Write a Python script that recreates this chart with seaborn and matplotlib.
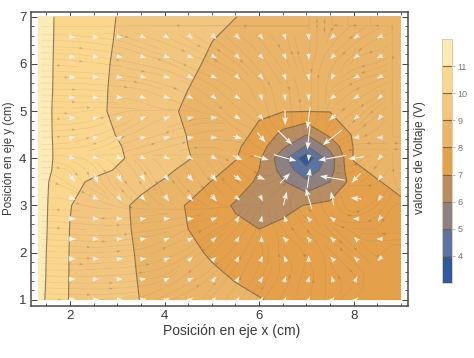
import numpy as np
import matplotlib
matplotlib.use("Agg")
import matplotlib.pyplot as plt
import matplotlib.tri as mtri
import seaborn as sns

# measurement grid (cm)
x_cm = [1.34, 1.5, 2, 2.5, 3, 3.5, 4, 4.5, 5, 5.5, 6, 6.5, 7, 7.5, 8, 8.5, 9]
y_cm = [1, 1.5, 2, 2.5, 3, 3.5, 3.75, 4, 4.25, 4.5, 5, 5.5, 6, 6.5, 7]

# voltage readings, one list per y
v_y100 = [11.3,10.93,9.94,9.62,9.3,8.98,8.79,8.6,8.42,8.23,8.04,7.85,7.75,7.7,7.65,7.6,7.6]
v_y150 = [11.3,10.98,9.95,9.62,9.28,8.94,8.7,8.46,8.18,7.92,7.75,7.6,7.55,7.55,7.6,7.6,7.6]
v_y200 = [11.3,11.0,9.96,9.6,9.26,8.9,8.57,8.23,7.88,7.55,7.35,7.35,7.45,7.5,7.55,7.6,7.65]
v_y250 = [11.3,11.04,9.98,9.61,9.23,8.84,8.42,8.0,7.55,7.2,7.0,7.2,7.35,7.45,7.5,7.6,7.7]
v_y300 = [11.3,11.06,10.03,9.62,9.22,8.8,8.36,7.93,7.4,6.9,6.7,6.75,7.05,7.25,7.5,7.75,7.85]
v_y350 = [11.3,11.08,10.3,9.83,9.54,9.25,8.93,8.45,7.97,7.45,6.85,6.1,5.2,6.0,7.4,7.95,8.25]
v_y375 = [11.3,11.1,10.67,10.3,9.93,9.56,9.19,8.76,8.28,7.75,7.0,5.65,4.3,5.6,7.85,8.15,8.4]
v_y400 = [11.3,11.1,10.74,10.43,10.11,9.77,9.41,9.06,8.6,8.06,7.15,5.37,3.3,5.5,8.05,8.4,8.6]
v_y425 = [11.3,11.1,10.73,10.4,10.07,9.71,9.36,9.0,8.6,8.2,7.4,6.2,4.9,6.3,8.05,8.4,8.6]
v_y450 = [11.3,11.1,10.7,10.33,9.97,9.69,9.31,8.97,8.6,8.22,7.85,6.7,6.0,7.2,8.1,8.4,8.6]
v_y500 = [11.3,11.1,10.67,10.22,9.83,9.48,9.19,8.87,8.6,8.4,8.1,8.05,8.03,8.03,8.35,8.6,8.75]
v_y550 = [11.3,11.12,10.68,10.22,9.86,9.58,9.3,9.01,8.8,8.6,8.45,8.35,8.3,8.3,8.5,8.75,8.85]
v_y600 = [11.3,11.12,10.7,10.25,9.89,9.63,9.38,9.13,8.9,8.72,8.6,8.5,8.45,8.5,8.6,8.8,8.9]
v_y650 = [11.3,11.12,10.73,10.31,9.94,9.71,9.47,9.24,9.01,8.85,8.72,8.63,8.6,8.6,8.7,8.85,8.95]
v_y700 = [11.3,11.12,10.75,10.35,9.98,9.79,9.6,9.4,9.2,9.01,8.85,8.75,8.7,8.7,8.8,8.9,8.95]

levels = [3, 4, 5, 6, 7, 8, 9, 10, 11, 12]
band_colors = ["#2F5A9E", "#5C74A3", "#8D8184", "#B88D61", "#E5A04C",
               "#EBB569", "#F3C67F", "#FBD78E", "#FCEBB6"]
arrow_x = [2.05, 2.55, 3.05, 3.55, 4.05, 4.55, 5.05, 5.55, 6.05, 6.55, 7.05, 7.55, 8.05, 8.55]
arrow_y = [1.01, 1.44, 1.87, 2.29, 2.72, 3.15, 3.58, 4.01, 4.44, 4.86, 5.29, 5.72, 6.15, 6.57]
xlabel = "Posición en eje x (cm)"
ylabel = "Posición en eje y (cm)"
barlabel = "valores de Voltaje (V)"

sns.set_theme(style="ticks")
plt.rcParams["font.family"] = ["Liberation Sans", "DejaVu Sans"]
palette = sns.color_palette(band_colors)
INK = "#3a3a3a"
W, H = 474, 358

Z = np.array([v_y100, v_y150, v_y200, v_y250, v_y300, v_y350, v_y375, v_y400,
              v_y425, v_y450, v_y500, v_y550, v_y600, v_y650, v_y700])
X, Y = np.meshgrid(x_cm, y_cm)

fig = plt.figure(figsize=(W / 100, H / 100), dpi=100, facecolor="white")
ax = fig.add_axes([30.7 / W, (H - 306) / H, 377.3 / W, 294 / H])

cf = ax.contourf(X, Y, Z, levels=levels, colors=palette)
ax.contour(X, Y, Z, levels=levels[1:-1], colors="#6f5f45", linewidths=0.8, alpha=0.8)

# field from the readings, on a regular grid
tri = mtri.Triangulation(X.ravel(), Y.ravel())
interp = mtri.LinearTriInterpolator(tri, Z.ravel())
xf = np.arange(1.4, 9.0001, 0.1)
yf = np.arange(1.0, 7.0001, 0.1)
XF, YF = np.meshgrid(xf, yf)
ZF = np.ma.filled(interp(XF, YF), 8.0)
gy, gx = np.gradient(ZF, yf, xf)
Ex, Ey = -gx, -gy

sp = ax.streamplot(xf, yf, Ex, Ey, density=1.6, color="#6b6258", linewidth=0.45,
                   arrowsize=0.4, zorder=2)
sp.lines.set_alpha(0.14)
for p in ax.patches:
    p.set_alpha(0.18)

AX, AY = np.meshgrid(arrow_x, arrow_y)
ix = np.clip(np.round((AX - xf[0]) / 0.1).astype(int), 0, len(xf) - 1)
iy = np.clip(np.round((AY - yf[0]) / 0.1).astype(int), 0, len(yf) - 1)
U, V = Ex[iy, ix], Ey[iy, ix]
mag = np.hypot(U, V) + 1e-9
length = np.clip(0.14 * mag / 1.2, 0.14, 0.72)
ax.quiver(AX, AY, U / mag * length, V / mag * length, angles="xy", scale_units="xy",
          scale=1, pivot="mid", color="#f7f3ea", units="dots", width=1.1,
          headwidth=5, headlength=7, headaxislength=6, minlength=0, zorder=3,
          clip_on=True)

ax.set_xlim(1.17, 9.15)
ax.set_ylim(0.87, 7.1)
ax.set_xticks([2, 4, 6, 8])
ax.set_yticks([1, 2, 3, 4, 5, 6, 7])
ax.set_xticks(np.arange(1.5, 9.01, 0.5), minor=True)
ax.set_yticks(np.arange(1, 7.01, 0.2), minor=True)
ax.tick_params(which="major", direction="in", length=4, width=0.7, top=True, right=True,
               color="#444444", labelsize=9.5, labelcolor=INK, pad=3)
ax.tick_params(which="minor", direction="in", length=2, width=0.6, top=True, right=True,
               color="#444444")
for s in ax.spines.values():
    s.set_color("#4a4a4a")
    s.set_linewidth(1.1)
fig.text(231.5 / W, 1 - 331 / H, xlabel, ha="center", va="center", fontsize=10, color=INK)
fig.text(9 / W, 1 - 158 / H, ylabel, rotation=90, ha="center", va="center",
         fontsize=8.3, color=INK)

cax = fig.add_axes([441.5 / W, (H - 283) / H, 10.5 / W, 244 / H])
cb = fig.colorbar(cf, cax=cax, ticks=levels[1:-1])
cb.ax.tick_params(length=2, width=0.5, color="#999999", labelsize=6.5, labelcolor="#777777", pad=2)
for lv in levels[1:-1]:
    cb.ax.axhline(lv, color="#7a6540", lw=0.8)
cb.outline.set_edgecolor("#d9cfa8")
cb.outline.set_linewidth(0.7)
fig.text(420 / W, 1 - 158 / H, barlabel, rotation=90, ha="center", va="center",
         fontsize=8.6, color=INK)

fig.savefig("out.png", dpi=100, facecolor="white")
